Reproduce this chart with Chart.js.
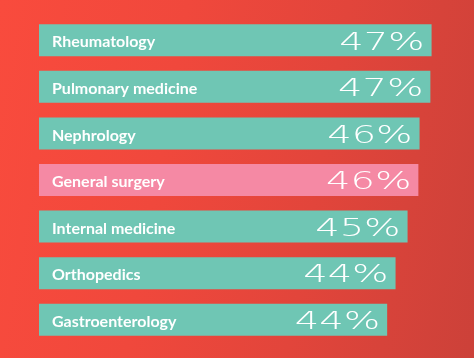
<!DOCTYPE html>
<html>
<head>
<meta charset="utf-8">
<script src="https://cdn.jsdelivr.net/npm/chart.js@4"></script>
<style>
html,body{margin:0;padding:0;}
body{width:474px;height:358px;overflow:hidden;
background:linear-gradient(100deg,#f94b3d 0%,#f0483c 35%,#e2453b 65%,#cc4139 100%);}
#wrap{position:relative;width:474px;height:358px;}
</style>
</head>
<body>
<div id="wrap"><canvas id="c" width="474" height="358"></canvas></div>
<script>
const categories = ["Rheumatology","Pulmonary medicine","Nephrology","General surgery","Internal medicine","Orthopedics","Gastroenterology"];
const values = [47.3, 47.2, 46.3, 46.2, 45.3, 44.3, 43.6];
const highlight = "General surgery";
const teal = "#6fc6b4";
const pink = "#f589a4";

const labelPlugin = {
  id: "inlineLabels",
  afterDatasetsDraw(chart) {
    const ctx = chart.ctx;
    const meta = chart.getDatasetMeta(0);
    const left = chart.chartArea.left;
    meta.data.forEach((bar, i) => {
      const right = bar.x;
      const y = bar.y;
      ctx.save();
      ctx.fillStyle = "#ffffff";
      ctx.textBaseline = "middle";
      ctx.textAlign = "left";
      ctx.font = "bold 16px Lato";
      ctx.fillText(categories[i], left + 13, y + 2);
      const txt = Math.round(values[i]) + "%";
      ctx.font = "200 24px 'DejaVu Sans'";
      const sx = 1.6;
      const w = ctx.measureText(txt).width * sx;
      ctx.translate(right - 7 - w, y + 3);
      ctx.scale(sx, 1);
      ctx.fillText(txt, 0, 0);
      ctx.restore();
    });
  }
};

new Chart(document.getElementById("c"), {
  type: "bar",
  data: {
    labels: categories,
    datasets: [{
      data: values,
      backgroundColor: categories.map(c => c === highlight ? pink : teal),
      borderWidth: 0,
      barPercentage: 0.687,
      categoryPercentage: 1
    }]
  },
  options: {
    indexAxis: "y",
    responsive: false,
    animation: false,
    layout: { padding: { left: 39, right: 4, top: 17, bottom: 15 } },
    plugins: { legend: { display: false }, tooltip: { enabled: false } },
    scales: {
      x: { display: false, min: 14.6, max: 50.5 },
      y: { display: false }
    }
  },
  plugins: [labelPlugin]
});
</script>
</body>
</html>
